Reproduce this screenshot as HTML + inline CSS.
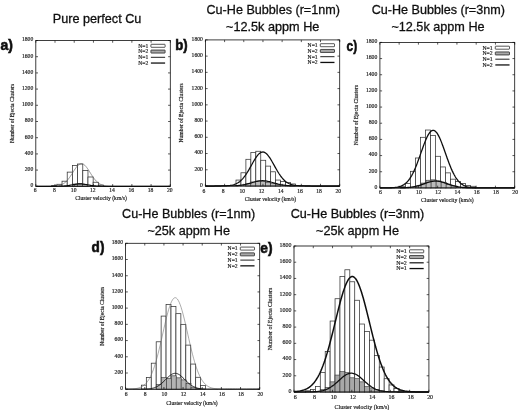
<!DOCTYPE html>
<html><head><meta charset="utf-8"><title>Figure</title>
<style>
html,body{margin:0;padding:0;background:#fff;}
body{width:520px;height:410px;overflow:hidden;}
svg{display:block;}
svg text{font-family:"Liberation Serif",serif;fill:#222;stroke:#222;stroke-width:0.18px;}
svg text.t{font-family:"Liberation Sans",sans-serif;fill:#111;stroke:#111;stroke-width:0.3px;}
svg text.p{font-family:"Liberation Sans",sans-serif;font-weight:bold;fill:#111;stroke:#111;stroke-width:0.6px;}
</style></head><body>
<svg width="520" height="410" viewBox="0 0 520 410">
<defs><filter id="bl" x="-2%" y="-2%" width="104%" height="104%"><feGaussianBlur stdDeviation="0.5"/></filter></defs>
<rect width="520" height="410" fill="#fff"/>
<g filter="url(#bl)">
<g>
<rect x="51.65" y="185.49" width="5.19" height="0.81" fill="#fff" stroke="#333" stroke-width="0.75"/>
<rect x="56.84" y="184.28" width="5.19" height="2.02" fill="#fff" stroke="#333" stroke-width="0.75"/>
<rect x="62.03" y="181.20" width="5.19" height="5.10" fill="#fff" stroke="#333" stroke-width="0.75"/>
<rect x="67.22" y="172.12" width="5.19" height="14.18" fill="#fff" stroke="#333" stroke-width="0.75"/>
<rect x="72.40" y="165.40" width="5.19" height="20.90" fill="#fff" stroke="#333" stroke-width="0.75"/>
<rect x="77.59" y="164.03" width="5.19" height="22.28" fill="#fff" stroke="#333" stroke-width="0.75"/>
<rect x="82.78" y="170.59" width="5.19" height="15.71" fill="#fff" stroke="#333" stroke-width="0.75"/>
<rect x="87.97" y="176.99" width="5.19" height="9.31" fill="#fff" stroke="#333" stroke-width="0.75"/>
<rect x="93.15" y="182.25" width="5.19" height="4.05" fill="#fff" stroke="#333" stroke-width="0.75"/>
<rect x="98.34" y="185.09" width="5.19" height="1.22" fill="#fff" stroke="#333" stroke-width="0.75"/>
<rect x="72.21" y="184.03" width="5.19" height="2.27" fill="#999" stroke="#333" stroke-width="0.6"/>
<rect x="77.40" y="183.71" width="5.19" height="2.59" fill="#999" stroke="#333" stroke-width="0.6"/>
<rect x="82.59" y="184.28" width="5.19" height="2.02" fill="#999" stroke="#333" stroke-width="0.6"/>
<path d="M35.80,186.30 L36.76,186.30 L37.72,186.30 L38.68,186.30 L39.64,186.30 L40.60,186.30 L41.56,186.30 L42.52,186.30 L43.49,186.30 L44.45,186.30 L45.41,186.30 L46.37,186.29 L47.33,186.29 L48.29,186.29 L49.25,186.28 L50.21,186.27 L51.17,186.25 L52.13,186.23 L53.09,186.19 L54.05,186.15 L55.01,186.09 L55.97,186.00 L56.94,185.89 L57.90,185.74 L58.86,185.55 L59.82,185.30 L60.78,184.99 L61.74,184.61 L62.70,184.13 L63.66,183.56 L64.62,182.88 L65.58,182.08 L66.54,181.15 L67.50,180.11 L68.46,178.94 L69.42,177.66 L70.39,176.27 L71.35,174.82 L72.31,173.31 L73.27,171.78 L74.23,170.27 L75.19,168.83 L76.15,167.48 L77.11,166.28 L78.07,165.27 L79.03,164.48 L79.99,163.93 L80.95,163.65 L81.91,163.65 L82.88,163.93 L83.84,164.48 L84.80,165.27 L85.76,166.28 L86.72,167.48 L87.68,168.83 L88.64,170.27 L89.60,171.78 L90.56,173.31 L91.52,174.82 L92.48,176.27 L93.44,177.66 L94.40,178.94 L95.36,180.11 L96.33,181.15 L97.29,182.08 L98.25,182.88 L99.21,183.56 L100.17,184.13 L101.13,184.61 L102.09,184.99 L103.05,185.30 L104.01,185.55 L104.97,185.74 L105.93,185.89 L106.89,186.00 L107.85,186.09 L108.81,186.15 L109.77,186.19 L110.74,186.23 L111.70,186.25 L112.66,186.27 L113.62,186.28 L114.58,186.29 L115.54,186.29 L116.50,186.29 L117.46,186.30 L118.42,186.30 L119.38,186.30 L120.34,186.30 L121.30,186.30 L122.26,186.30 L123.22,186.30 L124.19,186.30 L125.15,186.30 L126.11,186.30 L127.07,186.30 L128.03,186.30 L128.99,186.30 L129.95,186.30 L130.91,186.30 L131.87,186.30 L132.83,186.30 L133.79,186.30 L134.75,186.30 L135.71,186.30 L136.68,186.30 L137.64,186.30 L138.60,186.30 L139.56,186.30 L140.52,186.30 L141.48,186.30 L142.44,186.30 L143.40,186.30 L144.36,186.30 L145.32,186.30 L146.28,186.30 L147.24,186.30 L148.20,186.30 L149.16,186.30 L150.12,186.30 L151.09,186.30 L152.05,186.30 L153.01,186.30 L153.97,186.30 L154.93,186.30 L155.89,186.30 L156.85,186.30 L157.81,186.30 L158.77,186.30 L159.73,186.30 L160.69,186.30 L161.65,186.30 L162.61,186.30 L163.58,186.30 L164.54,186.30 L165.50,186.30 L166.46,186.30 L167.42,186.30 L168.38,186.30 L169.34,186.30 L170.30,186.30" fill="none" stroke="#555" stroke-width="0.6"/>
<path d="M35.80,186.30 L36.76,186.30 L37.72,186.30 L38.68,186.30 L39.64,186.30 L40.60,186.30 L41.56,186.30 L42.52,186.30 L43.49,186.30 L44.45,186.30 L45.41,186.30 L46.37,186.30 L47.33,186.30 L48.29,186.30 L49.25,186.30 L50.21,186.30 L51.17,186.30 L52.13,186.30 L53.09,186.29 L54.05,186.29 L55.01,186.29 L55.97,186.28 L56.94,186.27 L57.90,186.26 L58.86,186.24 L59.82,186.22 L60.78,186.19 L61.74,186.16 L62.70,186.11 L63.66,186.05 L64.62,185.97 L65.58,185.88 L66.54,185.77 L67.50,185.65 L68.46,185.51 L69.42,185.36 L70.39,185.19 L71.35,185.01 L72.31,184.83 L73.27,184.64 L74.23,184.47 L75.19,184.30 L76.15,184.16 L77.11,184.03 L78.07,183.94 L79.03,183.89 L79.99,183.87 L80.95,183.89 L81.91,183.94 L82.88,184.03 L83.84,184.16 L84.80,184.30 L85.76,184.47 L86.72,184.64 L87.68,184.83 L88.64,185.01 L89.60,185.19 L90.56,185.36 L91.52,185.51 L92.48,185.65 L93.44,185.77 L94.40,185.88 L95.36,185.97 L96.33,186.05 L97.29,186.11 L98.25,186.16 L99.21,186.19 L100.17,186.22 L101.13,186.24 L102.09,186.26 L103.05,186.27 L104.01,186.28 L104.97,186.29 L105.93,186.29 L106.89,186.29 L107.85,186.30 L108.81,186.30 L109.77,186.30 L110.74,186.30 L111.70,186.30 L112.66,186.30 L113.62,186.30 L114.58,186.30 L115.54,186.30 L116.50,186.30 L117.46,186.30 L118.42,186.30 L119.38,186.30 L120.34,186.30 L121.30,186.30 L122.26,186.30 L123.22,186.30 L124.19,186.30 L125.15,186.30 L126.11,186.30 L127.07,186.30 L128.03,186.30 L128.99,186.30 L129.95,186.30 L130.91,186.30 L131.87,186.30 L132.83,186.30 L133.79,186.30 L134.75,186.30 L135.71,186.30 L136.68,186.30 L137.64,186.30 L138.60,186.30 L139.56,186.30 L140.52,186.30 L141.48,186.30 L142.44,186.30 L143.40,186.30 L144.36,186.30 L145.32,186.30 L146.28,186.30 L147.24,186.30 L148.20,186.30 L149.16,186.30 L150.12,186.30 L151.09,186.30 L152.05,186.30 L153.01,186.30 L153.97,186.30 L154.93,186.30 L155.89,186.30 L156.85,186.30 L157.81,186.30 L158.77,186.30 L159.73,186.30 L160.69,186.30 L161.65,186.30 L162.61,186.30 L163.58,186.30 L164.54,186.30 L165.50,186.30 L166.46,186.30 L167.42,186.30 L168.38,186.30 L169.34,186.30 L170.30,186.30" fill="none" stroke="#111" stroke-width="1.2"/>
<rect x="35.8" y="40.5" width="134.5" height="145.8" fill="none" stroke="#111" stroke-width="0.8"/>
<path d="M35.80,186.3v-2.2M35.80,40.5v2.2" stroke="#111" stroke-width="0.7"/>
<text x="35.20" y="192.40" font-size="5.60" text-anchor="middle">6</text>
<path d="M55.01,186.3v-2.2M55.01,40.5v2.2" stroke="#111" stroke-width="0.7"/>
<text x="54.41" y="192.40" font-size="5.60" text-anchor="middle">8</text>
<path d="M74.23,186.3v-2.2M74.23,40.5v2.2" stroke="#111" stroke-width="0.7"/>
<text x="73.63" y="192.40" font-size="5.60" text-anchor="middle">10</text>
<path d="M93.44,186.3v-2.2M93.44,40.5v2.2" stroke="#111" stroke-width="0.7"/>
<text x="92.84" y="192.40" font-size="5.60" text-anchor="middle">12</text>
<path d="M112.66,186.3v-2.2M112.66,40.5v2.2" stroke="#111" stroke-width="0.7"/>
<text x="112.06" y="192.40" font-size="5.60" text-anchor="middle">14</text>
<path d="M131.87,186.3v-2.2M131.87,40.5v2.2" stroke="#111" stroke-width="0.7"/>
<text x="131.27" y="192.40" font-size="5.60" text-anchor="middle">16</text>
<path d="M151.09,186.3v-2.2M151.09,40.5v2.2" stroke="#111" stroke-width="0.7"/>
<text x="150.49" y="192.40" font-size="5.60" text-anchor="middle">18</text>
<path d="M170.30,186.3v-2.2M170.30,40.5v2.2" stroke="#111" stroke-width="0.7"/>
<text x="169.70" y="192.40" font-size="5.60" text-anchor="middle">20</text>
<path d="M35.8,186.30h2.2M170.3,186.30h-2.2" stroke="#111" stroke-width="0.7"/>
<text x="33.20" y="187.20" font-size="5.60" text-anchor="end">0</text>
<path d="M35.8,170.10h2.2M170.3,170.10h-2.2" stroke="#111" stroke-width="0.7"/>
<text x="33.20" y="171.00" font-size="5.60" text-anchor="end">200</text>
<path d="M35.8,153.90h2.2M170.3,153.90h-2.2" stroke="#111" stroke-width="0.7"/>
<text x="33.20" y="154.80" font-size="5.60" text-anchor="end">400</text>
<path d="M35.8,137.70h2.2M170.3,137.70h-2.2" stroke="#111" stroke-width="0.7"/>
<text x="33.20" y="138.60" font-size="5.60" text-anchor="end">600</text>
<path d="M35.8,121.50h2.2M170.3,121.50h-2.2" stroke="#111" stroke-width="0.7"/>
<text x="33.20" y="122.40" font-size="5.60" text-anchor="end">800</text>
<path d="M35.8,105.30h2.2M170.3,105.30h-2.2" stroke="#111" stroke-width="0.7"/>
<text x="33.20" y="106.20" font-size="5.60" text-anchor="end">1000</text>
<path d="M35.8,89.10h2.2M170.3,89.10h-2.2" stroke="#111" stroke-width="0.7"/>
<text x="33.20" y="90.00" font-size="5.60" text-anchor="end">1200</text>
<path d="M35.8,72.90h2.2M170.3,72.90h-2.2" stroke="#111" stroke-width="0.7"/>
<text x="33.20" y="73.80" font-size="5.60" text-anchor="end">1400</text>
<path d="M35.8,56.70h2.2M170.3,56.70h-2.2" stroke="#111" stroke-width="0.7"/>
<text x="33.20" y="57.60" font-size="5.60" text-anchor="end">1600</text>
<path d="M35.8,40.50h2.2M170.3,40.50h-2.2" stroke="#111" stroke-width="0.7"/>
<text x="33.20" y="41.40" font-size="5.60" text-anchor="end">1800</text>
<text x="101.05" y="199.80" font-size="5.60" text-anchor="middle">Cluster velocity (km/s)</text>
<text transform="translate(13.70,113.40) rotate(-90)" font-size="5.55" text-anchor="middle">Number of Ejecta Clusters</text>
<text x="148.20" y="47.60" font-size="5.60" text-anchor="end">N=1</text>
<rect x="150.90" y="44.30" width="14.2" height="3" rx="0.45" fill="#fff" stroke="#111" stroke-width="0.7"/>
<text x="148.20" y="53.35" font-size="5.60" text-anchor="end">N=2</text>
<rect x="150.90" y="50.05" width="14.2" height="3" rx="0.45" fill="#aaa" stroke="#111" stroke-width="0.7"/>
<text x="148.20" y="59.10" font-size="5.60" text-anchor="end">N=1</text>
<path d="M150.90,57.30h14.2" stroke="#222" stroke-width="1.0"/>
<text x="148.20" y="64.85" font-size="5.60" text-anchor="end">N=2</text>
<path d="M150.90,63.05h14.2" stroke="#111" stroke-width="1.3"/>
</g>
<g>
<rect x="236.00" y="180.07" width="4.95" height="5.93" fill="#fff" stroke="#333" stroke-width="0.75"/>
<rect x="240.95" y="172.77" width="4.95" height="13.23" fill="#fff" stroke="#333" stroke-width="0.75"/>
<rect x="245.90" y="159.30" width="4.95" height="26.70" fill="#fff" stroke="#333" stroke-width="0.75"/>
<rect x="250.85" y="152.56" width="4.95" height="33.44" fill="#fff" stroke="#333" stroke-width="0.75"/>
<rect x="255.80" y="151.26" width="4.95" height="34.74" fill="#fff" stroke="#333" stroke-width="0.75"/>
<rect x="260.75" y="160.27" width="4.95" height="25.73" fill="#fff" stroke="#333" stroke-width="0.75"/>
<rect x="265.70" y="166.11" width="4.95" height="19.89" fill="#fff" stroke="#333" stroke-width="0.75"/>
<rect x="270.65" y="171.80" width="4.95" height="14.20" fill="#fff" stroke="#333" stroke-width="0.75"/>
<rect x="275.60" y="180.07" width="4.95" height="5.93" fill="#fff" stroke="#333" stroke-width="0.75"/>
<rect x="280.55" y="181.54" width="4.95" height="4.46" fill="#fff" stroke="#333" stroke-width="0.75"/>
<rect x="285.50" y="182.51" width="4.95" height="3.49" fill="#fff" stroke="#333" stroke-width="0.75"/>
<rect x="290.45" y="183.97" width="4.95" height="2.03" fill="#fff" stroke="#333" stroke-width="0.75"/>
<rect x="245.88" y="183.56" width="4.95" height="2.44" fill="#bbb" stroke="#333" stroke-width="0.6"/>
<rect x="250.83" y="181.94" width="4.95" height="4.06" fill="#bbb" stroke="#333" stroke-width="0.6"/>
<rect x="255.78" y="180.97" width="4.95" height="5.03" fill="#bbb" stroke="#333" stroke-width="0.6"/>
<rect x="260.73" y="181.13" width="4.95" height="4.87" fill="#bbb" stroke="#333" stroke-width="0.6"/>
<rect x="265.68" y="182.35" width="4.95" height="3.65" fill="#bbb" stroke="#333" stroke-width="0.6"/>
<rect x="270.63" y="183.56" width="4.95" height="2.44" fill="#bbb" stroke="#333" stroke-width="0.6"/>
<rect x="275.58" y="184.78" width="4.95" height="1.22" fill="#bbb" stroke="#333" stroke-width="0.6"/>
<path d="M205.40,186.00 L206.36,186.00 L207.32,186.00 L208.28,186.00 L209.24,186.00 L210.20,186.00 L211.16,186.00 L212.12,186.00 L213.07,186.00 L214.03,186.00 L214.99,185.99 L215.95,185.99 L216.91,185.99 L217.87,185.99 L218.83,185.98 L219.79,185.97 L220.75,185.96 L221.71,185.95 L222.67,185.93 L223.63,185.90 L224.59,185.87 L225.54,185.83 L226.50,185.78 L227.46,185.71 L228.42,185.63 L229.38,185.53 L230.34,185.40 L231.30,185.24 L232.26,185.04 L233.22,184.81 L234.18,184.52 L235.14,184.18 L236.10,183.78 L237.06,183.31 L238.02,182.76 L238.97,182.12 L239.93,181.40 L240.89,180.57 L241.85,179.65 L242.81,178.62 L243.77,177.48 L244.73,176.24 L245.69,174.89 L246.65,173.45 L247.61,171.91 L248.57,170.31 L249.53,168.64 L250.49,166.93 L251.45,165.20 L252.41,163.47 L253.36,161.77 L254.32,160.13 L255.28,158.57 L256.24,157.11 L257.20,155.80 L258.16,154.65 L259.12,153.68 L260.08,152.92 L261.04,152.38 L262.00,152.07 L262.96,152.00 L263.92,152.16 L264.88,152.57 L265.84,153.20 L266.79,154.04 L267.75,155.09 L268.71,156.31 L269.67,157.68 L270.63,159.18 L271.59,160.78 L272.55,162.45 L273.51,164.16 L274.47,165.89 L275.43,167.62 L276.39,169.31 L277.35,170.96 L278.31,172.54 L279.26,174.03 L280.22,175.44 L281.18,176.75 L282.14,177.95 L283.10,179.04 L284.06,180.03 L285.02,180.92 L285.98,181.70 L286.94,182.39 L287.90,182.99 L288.86,183.50 L289.82,183.95 L290.78,184.32 L291.74,184.64 L292.69,184.91 L293.65,185.13 L294.61,185.31 L295.57,185.45 L296.53,185.57 L297.49,185.67 L298.45,185.74 L299.41,185.80 L300.37,185.85 L301.33,185.89 L302.29,185.92 L303.25,185.94 L304.21,185.95 L305.17,185.97 L306.12,185.97 L307.08,185.98 L308.04,185.99 L309.00,185.99 L309.96,185.99 L310.92,186.00 L311.88,186.00 L312.84,186.00 L313.80,186.00 L314.76,186.00 L315.72,186.00 L316.68,186.00 L317.64,186.00 L318.60,186.00 L319.55,186.00 L320.51,186.00 L321.47,186.00 L322.43,186.00 L323.39,186.00 L324.35,186.00 L325.31,186.00 L326.27,186.00 L327.23,186.00 L328.19,186.00 L329.15,186.00 L330.11,186.00 L331.07,186.00 L332.03,186.00 L332.99,186.00 L333.94,186.00 L334.90,186.00 L335.86,186.00 L336.82,186.00 L337.78,186.00 L338.74,186.00 L339.70,186.00" fill="none" stroke="#111" stroke-width="1.25"/>
<path d="M205.40,186.00 L206.36,186.00 L207.32,186.00 L208.28,186.00 L209.24,186.00 L210.20,186.00 L211.16,186.00 L212.12,186.00 L213.07,186.00 L214.03,186.00 L214.99,186.00 L215.95,186.00 L216.91,186.00 L217.87,186.00 L218.83,186.00 L219.79,186.00 L220.75,186.00 L221.71,185.99 L222.67,185.99 L223.63,185.99 L224.59,185.99 L225.54,185.98 L226.50,185.97 L227.46,185.97 L228.42,185.96 L229.38,185.94 L230.34,185.92 L231.30,185.90 L232.26,185.88 L233.22,185.84 L234.18,185.80 L235.14,185.76 L236.10,185.70 L237.06,185.63 L238.02,185.55 L238.97,185.45 L239.93,185.35 L240.89,185.22 L241.85,185.08 L242.81,184.92 L243.77,184.75 L244.73,184.55 L245.69,184.34 L246.65,184.12 L247.61,183.87 L248.57,183.62 L249.53,183.35 L250.49,183.08 L251.45,182.80 L252.41,182.52 L253.36,182.25 L254.32,181.99 L255.28,181.73 L256.24,181.50 L257.20,181.29 L258.16,181.11 L259.12,180.96 L260.08,180.85 L261.04,180.77 L262.00,180.73 L262.96,180.73 L263.92,180.77 L264.88,180.85 L265.84,180.96 L266.79,181.11 L267.75,181.29 L268.71,181.50 L269.67,181.73 L270.63,181.99 L271.59,182.25 L272.55,182.52 L273.51,182.80 L274.47,183.08 L275.43,183.35 L276.39,183.62 L277.35,183.87 L278.31,184.12 L279.26,184.34 L280.22,184.55 L281.18,184.75 L282.14,184.92 L283.10,185.08 L284.06,185.22 L285.02,185.35 L285.98,185.45 L286.94,185.55 L287.90,185.63 L288.86,185.70 L289.82,185.76 L290.78,185.80 L291.74,185.84 L292.69,185.88 L293.65,185.90 L294.61,185.92 L295.57,185.94 L296.53,185.96 L297.49,185.97 L298.45,185.97 L299.41,185.98 L300.37,185.99 L301.33,185.99 L302.29,185.99 L303.25,185.99 L304.21,186.00 L305.17,186.00 L306.12,186.00 L307.08,186.00 L308.04,186.00 L309.00,186.00 L309.96,186.00 L310.92,186.00 L311.88,186.00 L312.84,186.00 L313.80,186.00 L314.76,186.00 L315.72,186.00 L316.68,186.00 L317.64,186.00 L318.60,186.00 L319.55,186.00 L320.51,186.00 L321.47,186.00 L322.43,186.00 L323.39,186.00 L324.35,186.00 L325.31,186.00 L326.27,186.00 L327.23,186.00 L328.19,186.00 L329.15,186.00 L330.11,186.00 L331.07,186.00 L332.03,186.00 L332.99,186.00 L333.94,186.00 L334.90,186.00 L335.86,186.00 L336.82,186.00 L337.78,186.00 L338.74,186.00 L339.70,186.00" fill="none" stroke="#111" stroke-width="1.25"/>
<rect x="205.4" y="39.9" width="134.29999999999998" height="146.1" fill="none" stroke="#111" stroke-width="0.8"/>
<path d="M205.40,186v-2.2M205.40,39.9v2.2" stroke="#111" stroke-width="0.7"/>
<text x="204.00" y="192.90" font-size="5.60" text-anchor="middle">6</text>
<path d="M224.59,186v-2.2M224.59,39.9v2.2" stroke="#111" stroke-width="0.7"/>
<text x="223.19" y="192.90" font-size="5.60" text-anchor="middle">8</text>
<path d="M243.77,186v-2.2M243.77,39.9v2.2" stroke="#111" stroke-width="0.7"/>
<text x="242.37" y="192.90" font-size="5.60" text-anchor="middle">10</text>
<path d="M262.96,186v-2.2M262.96,39.9v2.2" stroke="#111" stroke-width="0.7"/>
<text x="261.56" y="192.90" font-size="5.60" text-anchor="middle">12</text>
<path d="M282.14,186v-2.2M282.14,39.9v2.2" stroke="#111" stroke-width="0.7"/>
<text x="280.74" y="192.90" font-size="5.60" text-anchor="middle">14</text>
<path d="M301.33,186v-2.2M301.33,39.9v2.2" stroke="#111" stroke-width="0.7"/>
<text x="299.93" y="192.90" font-size="5.60" text-anchor="middle">16</text>
<path d="M320.51,186v-2.2M320.51,39.9v2.2" stroke="#111" stroke-width="0.7"/>
<text x="319.11" y="192.90" font-size="5.60" text-anchor="middle">18</text>
<path d="M339.70,186v-2.2M339.70,39.9v2.2" stroke="#111" stroke-width="0.7"/>
<text x="338.30" y="192.90" font-size="5.60" text-anchor="middle">20</text>
<path d="M205.4,186.00h2.2M339.7,186.00h-2.2" stroke="#111" stroke-width="0.7"/>
<text x="202.80" y="186.90" font-size="5.60" text-anchor="end">0</text>
<path d="M205.4,169.77h2.2M339.7,169.77h-2.2" stroke="#111" stroke-width="0.7"/>
<text x="202.80" y="170.67" font-size="5.60" text-anchor="end">200</text>
<path d="M205.4,153.53h2.2M339.7,153.53h-2.2" stroke="#111" stroke-width="0.7"/>
<text x="202.80" y="154.43" font-size="5.60" text-anchor="end">400</text>
<path d="M205.4,137.30h2.2M339.7,137.30h-2.2" stroke="#111" stroke-width="0.7"/>
<text x="202.80" y="138.20" font-size="5.60" text-anchor="end">600</text>
<path d="M205.4,121.07h2.2M339.7,121.07h-2.2" stroke="#111" stroke-width="0.7"/>
<text x="202.80" y="121.97" font-size="5.60" text-anchor="end">800</text>
<path d="M205.4,104.83h2.2M339.7,104.83h-2.2" stroke="#111" stroke-width="0.7"/>
<text x="202.80" y="105.73" font-size="5.60" text-anchor="end">1000</text>
<path d="M205.4,88.60h2.2M339.7,88.60h-2.2" stroke="#111" stroke-width="0.7"/>
<text x="202.80" y="89.50" font-size="5.60" text-anchor="end">1200</text>
<path d="M205.4,72.37h2.2M339.7,72.37h-2.2" stroke="#111" stroke-width="0.7"/>
<text x="202.80" y="73.27" font-size="5.60" text-anchor="end">1400</text>
<path d="M205.4,56.13h2.2M339.7,56.13h-2.2" stroke="#111" stroke-width="0.7"/>
<text x="202.80" y="57.03" font-size="5.60" text-anchor="end">1600</text>
<path d="M205.4,39.90h2.2M339.7,39.90h-2.2" stroke="#111" stroke-width="0.7"/>
<text x="202.80" y="40.80" font-size="5.60" text-anchor="end">1800</text>
<text x="270.45" y="201.20" font-size="5.60" text-anchor="middle">Cluster velocity (km/s)</text>
<text transform="translate(183.30,112.95) rotate(-90)" font-size="5.55" text-anchor="middle">Number of Ejecta Clusters</text>
<text x="317.60" y="47.00" font-size="5.60" text-anchor="end">N=1</text>
<rect x="320.30" y="43.70" width="14.2" height="3" rx="0.45" fill="#fff" stroke="#111" stroke-width="0.7"/>
<text x="317.60" y="52.75" font-size="5.60" text-anchor="end">N=2</text>
<rect x="320.30" y="49.45" width="14.2" height="3" rx="0.45" fill="#aaa" stroke="#111" stroke-width="0.7"/>
<text x="317.60" y="58.50" font-size="5.60" text-anchor="end">N=1</text>
<path d="M320.30,56.70h14.2" stroke="#222" stroke-width="1.0"/>
<text x="317.60" y="64.25" font-size="5.60" text-anchor="end">N=2</text>
<path d="M320.30,62.45h14.2" stroke="#111" stroke-width="1.3"/>
</g>
<g>
<rect x="400.41" y="186.28" width="5.01" height="1.62" fill="#fff" stroke="#333" stroke-width="0.75"/>
<rect x="405.42" y="183.53" width="5.01" height="4.36" fill="#fff" stroke="#333" stroke-width="0.75"/>
<rect x="410.42" y="171.33" width="5.01" height="16.57" fill="#fff" stroke="#333" stroke-width="0.75"/>
<rect x="415.43" y="157.99" width="5.01" height="29.91" fill="#fff" stroke="#333" stroke-width="0.75"/>
<rect x="420.44" y="137.30" width="5.01" height="50.60" fill="#fff" stroke="#333" stroke-width="0.75"/>
<rect x="425.44" y="130.02" width="5.01" height="57.88" fill="#fff" stroke="#333" stroke-width="0.75"/>
<rect x="430.45" y="135.60" width="5.01" height="52.30" fill="#fff" stroke="#333" stroke-width="0.75"/>
<rect x="435.46" y="156.29" width="5.01" height="31.61" fill="#fff" stroke="#333" stroke-width="0.75"/>
<rect x="440.46" y="166.96" width="5.01" height="20.94" fill="#fff" stroke="#333" stroke-width="0.75"/>
<rect x="445.47" y="172.87" width="5.01" height="15.03" fill="#fff" stroke="#333" stroke-width="0.75"/>
<rect x="450.48" y="179.17" width="5.01" height="8.73" fill="#fff" stroke="#333" stroke-width="0.75"/>
<rect x="455.48" y="181.59" width="5.01" height="6.30" fill="#fff" stroke="#333" stroke-width="0.75"/>
<rect x="460.49" y="183.53" width="5.01" height="4.36" fill="#fff" stroke="#333" stroke-width="0.75"/>
<rect x="465.50" y="185.47" width="5.01" height="2.42" fill="#fff" stroke="#333" stroke-width="0.75"/>
<rect x="470.50" y="186.28" width="5.01" height="1.62" fill="#fff" stroke="#333" stroke-width="0.75"/>
<rect x="416.10" y="185.88" width="5.01" height="2.02" fill="#bbb" stroke="#333" stroke-width="0.6"/>
<rect x="421.11" y="183.05" width="5.01" height="4.85" fill="#bbb" stroke="#333" stroke-width="0.6"/>
<rect x="426.12" y="180.22" width="5.01" height="7.68" fill="#bbb" stroke="#333" stroke-width="0.6"/>
<rect x="431.12" y="179.82" width="5.01" height="8.08" fill="#bbb" stroke="#333" stroke-width="0.6"/>
<rect x="436.13" y="181.03" width="5.01" height="6.87" fill="#bbb" stroke="#333" stroke-width="0.6"/>
<rect x="441.14" y="182.24" width="5.01" height="5.66" fill="#bbb" stroke="#333" stroke-width="0.6"/>
<rect x="446.14" y="184.26" width="5.01" height="3.64" fill="#bbb" stroke="#333" stroke-width="0.6"/>
<rect x="451.15" y="185.88" width="5.01" height="2.02" fill="#bbb" stroke="#333" stroke-width="0.6"/>
<path d="M379.90,187.90 L380.86,187.89 L381.83,187.89 L382.79,187.89 L383.75,187.88 L384.71,187.88 L385.68,187.87 L386.64,187.86 L387.60,187.84 L388.57,187.83 L389.53,187.80 L390.49,187.77 L391.45,187.73 L392.42,187.68 L393.38,187.61 L394.34,187.53 L395.31,187.42 L396.27,187.29 L397.23,187.13 L398.19,186.93 L399.16,186.69 L400.12,186.40 L401.08,186.05 L402.05,185.63 L403.01,185.14 L403.97,184.56 L404.93,183.88 L405.90,183.09 L406.86,182.19 L407.82,181.16 L408.79,179.99 L409.75,178.67 L410.71,177.21 L411.67,175.58 L412.64,173.80 L413.60,171.86 L414.56,169.76 L415.53,167.52 L416.49,165.14 L417.45,162.64 L418.41,160.04 L419.38,157.37 L420.34,154.64 L421.30,151.89 L422.27,149.16 L423.23,146.48 L424.19,143.88 L425.15,141.41 L426.12,139.11 L427.08,137.01 L428.04,135.15 L429.01,133.55 L429.97,132.26 L430.93,131.28 L431.89,130.65 L432.86,130.36 L433.82,130.43 L434.78,130.86 L435.75,131.63 L436.71,132.74 L437.67,134.16 L438.63,135.86 L439.60,137.82 L440.56,140.01 L441.52,142.38 L442.49,144.91 L443.45,147.54 L444.41,150.25 L445.37,152.99 L446.34,155.74 L447.30,158.45 L448.26,161.09 L449.23,163.66 L450.19,166.11 L451.15,168.43 L452.11,170.62 L453.08,172.65 L454.04,174.53 L455.00,176.25 L455.97,177.81 L456.93,179.22 L457.89,180.47 L458.85,181.59 L459.82,182.57 L460.78,183.42 L461.74,184.16 L462.71,184.80 L463.67,185.35 L464.63,185.81 L465.59,186.20 L466.56,186.52 L467.52,186.79 L468.48,187.02 L469.45,187.20 L470.41,187.35 L471.37,187.47 L472.33,187.56 L473.30,187.64 L474.26,187.70 L475.22,187.75 L476.19,187.78 L477.15,187.81 L478.11,187.83 L479.07,187.85 L480.04,187.86 L481.00,187.87 L481.96,187.88 L482.93,187.89 L483.89,187.89 L484.85,187.89 L485.81,187.89 L486.78,187.90 L487.74,187.90 L488.70,187.90 L489.67,187.90 L490.63,187.90 L491.59,187.90 L492.55,187.90 L493.52,187.90 L494.48,187.90 L495.44,187.90 L496.41,187.90 L497.37,187.90 L498.33,187.90 L499.29,187.90 L500.26,187.90 L501.22,187.90 L502.18,187.90 L503.15,187.90 L504.11,187.90 L505.07,187.90 L506.03,187.90 L507.00,187.90 L507.96,187.90 L508.92,187.90 L509.89,187.90 L510.85,187.90 L511.81,187.90 L512.77,187.90 L513.74,187.90 L514.70,187.90" fill="none" stroke="#111" stroke-width="1.3"/>
<path d="M379.90,187.90 L380.86,187.90 L381.83,187.90 L382.79,187.90 L383.75,187.90 L384.71,187.90 L385.68,187.90 L386.64,187.90 L387.60,187.90 L388.57,187.90 L389.53,187.90 L390.49,187.90 L391.45,187.90 L392.42,187.89 L393.38,187.89 L394.34,187.89 L395.31,187.88 L396.27,187.88 L397.23,187.87 L398.19,187.87 L399.16,187.85 L400.12,187.84 L401.08,187.82 L402.05,187.80 L403.01,187.78 L403.97,187.74 L404.93,187.70 L405.90,187.66 L406.86,187.60 L407.82,187.53 L408.79,187.45 L409.75,187.35 L410.71,187.24 L411.67,187.12 L412.64,186.97 L413.60,186.81 L414.56,186.62 L415.53,186.41 L416.49,186.19 L417.45,185.94 L418.41,185.67 L419.38,185.38 L420.34,185.08 L421.30,184.75 L422.27,184.42 L423.23,184.08 L424.19,183.73 L425.15,183.39 L426.12,183.04 L427.08,182.71 L428.04,182.40 L429.01,182.10 L429.97,181.84 L430.93,181.60 L431.89,181.40 L432.86,181.24 L433.82,181.12 L434.78,181.05 L435.75,181.03 L436.71,181.05 L437.67,181.12 L438.63,181.24 L439.60,181.40 L440.56,181.60 L441.52,181.84 L442.49,182.10 L443.45,182.40 L444.41,182.71 L445.37,183.04 L446.34,183.39 L447.30,183.73 L448.26,184.08 L449.23,184.42 L450.19,184.75 L451.15,185.08 L452.11,185.38 L453.08,185.67 L454.04,185.94 L455.00,186.19 L455.97,186.41 L456.93,186.62 L457.89,186.81 L458.85,186.97 L459.82,187.12 L460.78,187.24 L461.74,187.35 L462.71,187.45 L463.67,187.53 L464.63,187.60 L465.59,187.66 L466.56,187.70 L467.52,187.74 L468.48,187.78 L469.45,187.80 L470.41,187.82 L471.37,187.84 L472.33,187.85 L473.30,187.87 L474.26,187.87 L475.22,187.88 L476.19,187.88 L477.15,187.89 L478.11,187.89 L479.07,187.89 L480.04,187.90 L481.00,187.90 L481.96,187.90 L482.93,187.90 L483.89,187.90 L484.85,187.90 L485.81,187.90 L486.78,187.90 L487.74,187.90 L488.70,187.90 L489.67,187.90 L490.63,187.90 L491.59,187.90 L492.55,187.90 L493.52,187.90 L494.48,187.90 L495.44,187.90 L496.41,187.90 L497.37,187.90 L498.33,187.90 L499.29,187.90 L500.26,187.90 L501.22,187.90 L502.18,187.90 L503.15,187.90 L504.11,187.90 L505.07,187.90 L506.03,187.90 L507.00,187.90 L507.96,187.90 L508.92,187.90 L509.89,187.90 L510.85,187.90 L511.81,187.90 L512.77,187.90 L513.74,187.90 L514.70,187.90" fill="none" stroke="#111" stroke-width="1.4"/>
<rect x="379.9" y="42.4" width="134.80000000000007" height="145.5" fill="none" stroke="#111" stroke-width="0.8"/>
<path d="M379.90,187.9v-2.2M379.90,42.4v2.2" stroke="#111" stroke-width="0.7"/>
<text x="380.40" y="194.00" font-size="5.71" text-anchor="middle">6</text>
<path d="M399.16,187.9v-2.2M399.16,42.4v2.2" stroke="#111" stroke-width="0.7"/>
<text x="399.66" y="194.00" font-size="5.71" text-anchor="middle">8</text>
<path d="M418.41,187.9v-2.2M418.41,42.4v2.2" stroke="#111" stroke-width="0.7"/>
<text x="418.91" y="194.00" font-size="5.71" text-anchor="middle">10</text>
<path d="M437.67,187.9v-2.2M437.67,42.4v2.2" stroke="#111" stroke-width="0.7"/>
<text x="438.17" y="194.00" font-size="5.71" text-anchor="middle">12</text>
<path d="M456.93,187.9v-2.2M456.93,42.4v2.2" stroke="#111" stroke-width="0.7"/>
<text x="457.43" y="194.00" font-size="5.71" text-anchor="middle">14</text>
<path d="M476.19,187.9v-2.2M476.19,42.4v2.2" stroke="#111" stroke-width="0.7"/>
<text x="476.69" y="194.00" font-size="5.71" text-anchor="middle">16</text>
<path d="M495.44,187.9v-2.2M495.44,42.4v2.2" stroke="#111" stroke-width="0.7"/>
<text x="495.94" y="194.00" font-size="5.71" text-anchor="middle">18</text>
<path d="M514.70,187.9v-2.2M514.70,42.4v2.2" stroke="#111" stroke-width="0.7"/>
<text x="515.20" y="194.00" font-size="5.71" text-anchor="middle">20</text>
<path d="M379.9,187.90h2.2M514.7,187.90h-2.2" stroke="#111" stroke-width="0.7"/>
<text x="377.30" y="188.80" font-size="5.71" text-anchor="end">0</text>
<path d="M379.9,171.73h2.2M514.7,171.73h-2.2" stroke="#111" stroke-width="0.7"/>
<text x="377.30" y="172.63" font-size="5.71" text-anchor="end">200</text>
<path d="M379.9,155.57h2.2M514.7,155.57h-2.2" stroke="#111" stroke-width="0.7"/>
<text x="377.30" y="156.47" font-size="5.71" text-anchor="end">400</text>
<path d="M379.9,139.40h2.2M514.7,139.40h-2.2" stroke="#111" stroke-width="0.7"/>
<text x="377.30" y="140.30" font-size="5.71" text-anchor="end">600</text>
<path d="M379.9,123.23h2.2M514.7,123.23h-2.2" stroke="#111" stroke-width="0.7"/>
<text x="377.30" y="124.13" font-size="5.71" text-anchor="end">800</text>
<path d="M379.9,107.07h2.2M514.7,107.07h-2.2" stroke="#111" stroke-width="0.7"/>
<text x="377.30" y="107.97" font-size="5.71" text-anchor="end">1000</text>
<path d="M379.9,90.90h2.2M514.7,90.90h-2.2" stroke="#111" stroke-width="0.7"/>
<text x="377.30" y="91.80" font-size="5.71" text-anchor="end">1200</text>
<path d="M379.9,74.73h2.2M514.7,74.73h-2.2" stroke="#111" stroke-width="0.7"/>
<text x="377.30" y="75.63" font-size="5.71" text-anchor="end">1400</text>
<path d="M379.9,58.57h2.2M514.7,58.57h-2.2" stroke="#111" stroke-width="0.7"/>
<text x="377.30" y="59.47" font-size="5.71" text-anchor="end">1600</text>
<path d="M379.9,42.40h2.2M514.7,42.40h-2.2" stroke="#111" stroke-width="0.7"/>
<text x="377.30" y="43.30" font-size="5.71" text-anchor="end">1800</text>
<text x="447.30" y="202.30" font-size="5.71" text-anchor="middle">Cluster velocity (km/s)</text>
<text transform="translate(357.80,115.15) rotate(-90)" font-size="5.66" text-anchor="middle">Number of Ejecta Clusters</text>
<text x="492.60" y="49.50" font-size="5.71" text-anchor="end">N=1</text>
<rect x="495.30" y="46.20" width="14.2" height="3" rx="0.45" fill="#fff" stroke="#111" stroke-width="0.7"/>
<text x="492.60" y="55.25" font-size="5.71" text-anchor="end">N=2</text>
<rect x="495.30" y="51.95" width="14.2" height="3" rx="0.45" fill="#aaa" stroke="#111" stroke-width="0.7"/>
<text x="492.60" y="61.00" font-size="5.71" text-anchor="end">N=1</text>
<path d="M495.30,59.20h14.2" stroke="#222" stroke-width="1.0"/>
<text x="492.60" y="66.75" font-size="5.71" text-anchor="end">N=2</text>
<path d="M495.30,64.95h14.2" stroke="#111" stroke-width="1.3"/>
</g>
<g>
<rect x="141.40" y="385.15" width="4.93" height="4.05" fill="#fff" stroke="#333" stroke-width="0.75"/>
<rect x="146.34" y="377.61" width="4.93" height="11.59" fill="#fff" stroke="#333" stroke-width="0.75"/>
<rect x="151.27" y="363.18" width="4.93" height="26.02" fill="#fff" stroke="#333" stroke-width="0.75"/>
<rect x="156.20" y="341.78" width="4.93" height="47.42" fill="#fff" stroke="#333" stroke-width="0.75"/>
<rect x="161.14" y="316.09" width="4.93" height="73.11" fill="#fff" stroke="#333" stroke-width="0.75"/>
<rect x="166.07" y="304.42" width="4.93" height="84.78" fill="#fff" stroke="#333" stroke-width="0.75"/>
<rect x="171.00" y="306.60" width="4.93" height="82.60" fill="#fff" stroke="#333" stroke-width="0.75"/>
<rect x="175.94" y="313.66" width="4.93" height="75.54" fill="#fff" stroke="#333" stroke-width="0.75"/>
<rect x="180.87" y="324.36" width="4.93" height="64.84" fill="#fff" stroke="#333" stroke-width="0.75"/>
<rect x="185.80" y="345.11" width="4.93" height="44.09" fill="#fff" stroke="#333" stroke-width="0.75"/>
<rect x="190.73" y="364.07" width="4.93" height="25.13" fill="#fff" stroke="#333" stroke-width="0.75"/>
<rect x="195.67" y="377.28" width="4.93" height="11.92" fill="#fff" stroke="#333" stroke-width="0.75"/>
<rect x="200.60" y="385.55" width="4.93" height="3.65" fill="#fff" stroke="#333" stroke-width="0.75"/>
<rect x="156.49" y="384.50" width="4.93" height="4.70" fill="#b4b4b4" stroke="#333" stroke-width="0.6"/>
<rect x="161.42" y="377.61" width="4.93" height="11.59" fill="#b4b4b4" stroke="#333" stroke-width="0.6"/>
<rect x="166.36" y="378.26" width="4.93" height="10.94" fill="#b4b4b4" stroke="#333" stroke-width="0.6"/>
<rect x="171.29" y="375.83" width="4.93" height="13.37" fill="#b4b4b4" stroke="#333" stroke-width="0.6"/>
<rect x="176.22" y="377.85" width="4.93" height="11.35" fill="#b4b4b4" stroke="#333" stroke-width="0.6"/>
<rect x="181.16" y="379.88" width="4.93" height="9.32" fill="#b4b4b4" stroke="#333" stroke-width="0.6"/>
<rect x="186.09" y="383.53" width="4.93" height="5.67" fill="#b4b4b4" stroke="#333" stroke-width="0.6"/>
<rect x="191.02" y="387.17" width="4.93" height="2.03" fill="#b4b4b4" stroke="#333" stroke-width="0.6"/>
<rect x="195.95" y="388.39" width="4.93" height="0.81" fill="#b4b4b4" stroke="#333" stroke-width="0.6"/>
<path d="M125.60,389.17 L126.56,389.16 L127.52,389.14 L128.47,389.12 L129.43,389.09 L130.39,389.06 L131.35,389.02 L132.31,388.96 L133.26,388.89 L134.22,388.79 L135.18,388.68 L136.14,388.54 L137.09,388.36 L138.05,388.14 L139.01,387.86 L139.97,387.53 L140.93,387.14 L141.88,386.66 L142.84,386.08 L143.80,385.41 L144.76,384.61 L145.71,383.67 L146.67,382.59 L147.63,381.33 L148.59,379.90 L149.55,378.27 L150.50,376.43 L151.46,374.37 L152.42,372.07 L153.38,369.54 L154.34,366.77 L155.29,363.76 L156.25,360.51 L157.21,357.04 L158.17,353.36 L159.12,349.50 L160.08,345.48 L161.04,341.33 L162.00,337.11 L162.96,332.84 L163.91,328.59 L164.87,324.40 L165.83,320.32 L166.79,316.43 L167.75,312.76 L168.70,309.39 L169.66,306.36 L170.62,303.72 L171.58,301.52 L172.53,299.79 L173.49,298.56 L174.45,297.86 L175.41,297.70 L176.37,298.08 L177.32,298.99 L178.28,300.42 L179.24,302.34 L180.20,304.72 L181.16,307.53 L182.11,310.70 L183.07,314.20 L184.03,317.96 L184.99,321.93 L185.94,326.06 L186.90,330.28 L187.86,334.55 L188.82,338.80 L189.78,343.00 L190.73,347.10 L191.69,351.06 L192.65,354.85 L193.61,358.45 L194.57,361.84 L195.52,364.99 L196.48,367.91 L197.44,370.58 L198.40,373.02 L199.35,375.22 L200.31,377.19 L201.27,378.95 L202.23,380.50 L203.19,381.86 L204.14,383.04 L205.10,384.06 L206.06,384.94 L207.02,385.69 L207.98,386.33 L208.93,386.86 L209.89,387.30 L210.85,387.67 L211.81,387.98 L212.76,388.23 L213.72,388.43 L214.68,388.60 L215.64,388.73 L216.60,388.83 L217.55,388.92 L218.51,388.98 L219.47,389.03 L220.43,389.07 L221.39,389.11 L222.34,389.13 L223.30,389.15 L224.26,389.16 L225.22,389.17 L226.17,389.18 L227.13,389.18 L228.09,389.19 L229.05,389.19 L230.01,389.19 L230.96,389.20 L231.92,389.20 L232.88,389.20 L233.84,389.20 L234.80,389.20 L235.75,389.20 L236.71,389.20 L237.67,389.20 L238.63,389.20 L239.58,389.20 L240.54,389.20 L241.50,389.20 L242.46,389.20 L243.42,389.20 L244.37,389.20 L245.33,389.20 L246.29,389.20 L247.25,389.20 L248.21,389.20 L249.16,389.20 L250.12,389.20 L251.08,389.20 L252.04,389.20 L253.00,389.20 L253.95,389.20 L254.91,389.20 L255.87,389.20 L256.83,389.20 L257.78,389.20 L258.74,389.20 L259.70,389.20" fill="none" stroke="#666" stroke-width="0.55"/>
<path d="M125.60,389.20 L126.56,389.20 L127.52,389.20 L128.47,389.20 L129.43,389.20 L130.39,389.20 L131.35,389.20 L132.31,389.20 L133.26,389.20 L134.22,389.20 L135.18,389.20 L136.14,389.20 L137.09,389.19 L138.05,389.19 L139.01,389.19 L139.97,389.18 L140.93,389.17 L141.88,389.16 L142.84,389.15 L143.80,389.13 L144.76,389.10 L145.71,389.06 L146.67,389.01 L147.63,388.95 L148.59,388.87 L149.55,388.76 L150.50,388.63 L151.46,388.47 L152.42,388.26 L153.38,388.02 L154.34,387.72 L155.29,387.37 L156.25,386.96 L157.21,386.49 L158.17,385.94 L159.12,385.33 L160.08,384.64 L161.04,383.89 L162.00,383.07 L162.96,382.20 L163.91,381.28 L164.87,380.33 L165.83,379.37 L166.79,378.41 L167.75,377.48 L168.70,376.59 L169.66,375.77 L170.62,375.04 L171.58,374.42 L172.53,373.92 L173.49,373.57 L174.45,373.36 L175.41,373.32 L176.37,373.43 L177.32,373.69 L178.28,374.11 L179.24,374.65 L180.20,375.32 L181.16,376.09 L182.11,376.94 L183.07,377.85 L184.03,378.79 L184.99,379.76 L185.94,380.72 L186.90,381.65 L187.86,382.55 L188.82,383.40 L189.78,384.20 L190.73,384.92 L191.69,385.58 L192.65,386.17 L193.61,386.68 L194.57,387.13 L195.52,387.52 L196.48,387.85 L197.44,388.12 L198.40,388.35 L199.35,388.54 L200.31,388.69 L201.27,388.81 L202.23,388.90 L203.19,388.98 L204.14,389.03 L205.10,389.08 L206.06,389.11 L207.02,389.14 L207.98,389.15 L208.93,389.17 L209.89,389.18 L210.85,389.18 L211.81,389.19 L212.76,389.19 L213.72,389.20 L214.68,389.20 L215.64,389.20 L216.60,389.20 L217.55,389.20 L218.51,389.20 L219.47,389.20 L220.43,389.20 L221.39,389.20 L222.34,389.20 L223.30,389.20 L224.26,389.20 L225.22,389.20 L226.17,389.20 L227.13,389.20 L228.09,389.20 L229.05,389.20 L230.01,389.20 L230.96,389.20 L231.92,389.20 L232.88,389.20 L233.84,389.20 L234.80,389.20 L235.75,389.20 L236.71,389.20 L237.67,389.20 L238.63,389.20 L239.58,389.20 L240.54,389.20 L241.50,389.20 L242.46,389.20 L243.42,389.20 L244.37,389.20 L245.33,389.20 L246.29,389.20 L247.25,389.20 L248.21,389.20 L249.16,389.20 L250.12,389.20 L251.08,389.20 L252.04,389.20 L253.00,389.20 L253.95,389.20 L254.91,389.20 L255.87,389.20 L256.83,389.20 L257.78,389.20 L258.74,389.20 L259.70,389.20" fill="none" stroke="#111" stroke-width="0.9"/>
<rect x="125.6" y="243.3" width="134.1" height="145.89999999999998" fill="none" stroke="#111" stroke-width="0.8"/>
<path d="M125.60,389.2v-2.2M125.60,243.3v2.2" stroke="#111" stroke-width="0.7"/>
<text x="126.10" y="395.60" font-size="5.60" text-anchor="middle">6</text>
<path d="M144.76,389.2v-2.2M144.76,243.3v2.2" stroke="#111" stroke-width="0.7"/>
<text x="145.26" y="395.60" font-size="5.60" text-anchor="middle">8</text>
<path d="M163.91,389.2v-2.2M163.91,243.3v2.2" stroke="#111" stroke-width="0.7"/>
<text x="164.41" y="395.60" font-size="5.60" text-anchor="middle">10</text>
<path d="M183.07,389.2v-2.2M183.07,243.3v2.2" stroke="#111" stroke-width="0.7"/>
<text x="183.57" y="395.60" font-size="5.60" text-anchor="middle">12</text>
<path d="M202.23,389.2v-2.2M202.23,243.3v2.2" stroke="#111" stroke-width="0.7"/>
<text x="202.73" y="395.60" font-size="5.60" text-anchor="middle">14</text>
<path d="M221.39,389.2v-2.2M221.39,243.3v2.2" stroke="#111" stroke-width="0.7"/>
<text x="221.89" y="395.60" font-size="5.60" text-anchor="middle">16</text>
<path d="M240.54,389.2v-2.2M240.54,243.3v2.2" stroke="#111" stroke-width="0.7"/>
<text x="241.04" y="395.60" font-size="5.60" text-anchor="middle">18</text>
<path d="M259.70,389.2v-2.2M259.70,243.3v2.2" stroke="#111" stroke-width="0.7"/>
<text x="260.20" y="395.60" font-size="5.60" text-anchor="middle">20</text>
<path d="M125.6,389.20h2.2M259.7,389.20h-2.2" stroke="#111" stroke-width="0.7"/>
<text x="123.00" y="390.10" font-size="5.60" text-anchor="end">0</text>
<path d="M125.6,372.99h2.2M259.7,372.99h-2.2" stroke="#111" stroke-width="0.7"/>
<text x="123.00" y="373.89" font-size="5.60" text-anchor="end">200</text>
<path d="M125.6,356.78h2.2M259.7,356.78h-2.2" stroke="#111" stroke-width="0.7"/>
<text x="123.00" y="357.68" font-size="5.60" text-anchor="end">400</text>
<path d="M125.6,340.57h2.2M259.7,340.57h-2.2" stroke="#111" stroke-width="0.7"/>
<text x="123.00" y="341.47" font-size="5.60" text-anchor="end">600</text>
<path d="M125.6,324.36h2.2M259.7,324.36h-2.2" stroke="#111" stroke-width="0.7"/>
<text x="123.00" y="325.26" font-size="5.60" text-anchor="end">800</text>
<path d="M125.6,308.14h2.2M259.7,308.14h-2.2" stroke="#111" stroke-width="0.7"/>
<text x="123.00" y="309.04" font-size="5.60" text-anchor="end">1000</text>
<path d="M125.6,291.93h2.2M259.7,291.93h-2.2" stroke="#111" stroke-width="0.7"/>
<text x="123.00" y="292.83" font-size="5.60" text-anchor="end">1200</text>
<path d="M125.6,275.72h2.2M259.7,275.72h-2.2" stroke="#111" stroke-width="0.7"/>
<text x="123.00" y="276.62" font-size="5.60" text-anchor="end">1400</text>
<path d="M125.6,259.51h2.2M259.7,259.51h-2.2" stroke="#111" stroke-width="0.7"/>
<text x="123.00" y="260.41" font-size="5.60" text-anchor="end">1600</text>
<path d="M125.6,243.30h2.2M259.7,243.30h-2.2" stroke="#111" stroke-width="0.7"/>
<text x="123.00" y="244.20" font-size="5.60" text-anchor="end">1800</text>
<text x="191.95" y="404.80" font-size="5.60" text-anchor="middle">Cluster velocity (km/s)</text>
<text transform="translate(103.50,316.25) rotate(-90)" font-size="5.55" text-anchor="middle">Number of Ejecta Clusters</text>
<text x="237.60" y="250.40" font-size="5.60" text-anchor="end">N=1</text>
<rect x="240.30" y="247.10" width="14.2" height="3" rx="0.45" fill="#fff" stroke="#111" stroke-width="0.7"/>
<text x="237.60" y="256.15" font-size="5.60" text-anchor="end">N=2</text>
<rect x="240.30" y="252.85" width="14.2" height="3" rx="0.45" fill="#aaa" stroke="#111" stroke-width="0.7"/>
<text x="237.60" y="261.90" font-size="5.60" text-anchor="end">N=1</text>
<path d="M240.30,260.10h14.2" stroke="#222" stroke-width="1.0"/>
<text x="237.60" y="267.65" font-size="5.60" text-anchor="end">N=2</text>
<path d="M240.30,265.85h14.2" stroke="#111" stroke-width="1.3"/>
</g>
<g>
<rect x="305.56" y="390.78" width="4.91" height="1.22" fill="#fff" stroke="#333" stroke-width="0.75"/>
<rect x="310.48" y="389.57" width="4.91" height="2.43" fill="#fff" stroke="#333" stroke-width="0.75"/>
<rect x="315.39" y="386.48" width="4.91" height="5.52" fill="#fff" stroke="#333" stroke-width="0.75"/>
<rect x="320.31" y="372.53" width="4.91" height="19.47" fill="#fff" stroke="#333" stroke-width="0.75"/>
<rect x="325.22" y="351.61" width="4.91" height="40.39" fill="#fff" stroke="#333" stroke-width="0.75"/>
<rect x="330.13" y="321.03" width="4.91" height="70.97" fill="#fff" stroke="#333" stroke-width="0.75"/>
<rect x="335.05" y="298.72" width="4.91" height="93.28" fill="#fff" stroke="#333" stroke-width="0.75"/>
<rect x="339.96" y="276.58" width="4.91" height="115.42" fill="#fff" stroke="#333" stroke-width="0.75"/>
<rect x="344.88" y="269.77" width="4.91" height="122.23" fill="#fff" stroke="#333" stroke-width="0.75"/>
<rect x="349.79" y="281.77" width="4.91" height="110.23" fill="#fff" stroke="#333" stroke-width="0.75"/>
<rect x="354.70" y="300.26" width="4.91" height="91.74" fill="#fff" stroke="#333" stroke-width="0.75"/>
<rect x="359.62" y="324.03" width="4.91" height="67.97" fill="#fff" stroke="#333" stroke-width="0.75"/>
<rect x="364.53" y="331.41" width="4.91" height="60.59" fill="#fff" stroke="#333" stroke-width="0.75"/>
<rect x="369.45" y="340.17" width="4.91" height="51.83" fill="#fff" stroke="#333" stroke-width="0.75"/>
<rect x="374.36" y="355.58" width="4.91" height="36.42" fill="#fff" stroke="#333" stroke-width="0.75"/>
<rect x="379.28" y="367.02" width="4.91" height="24.98" fill="#fff" stroke="#333" stroke-width="0.75"/>
<rect x="384.19" y="378.70" width="4.91" height="13.30" fill="#fff" stroke="#333" stroke-width="0.75"/>
<rect x="389.10" y="384.94" width="4.91" height="7.06" fill="#fff" stroke="#333" stroke-width="0.75"/>
<rect x="394.02" y="388.59" width="4.91" height="3.41" fill="#fff" stroke="#333" stroke-width="0.75"/>
<rect x="398.93" y="390.46" width="4.91" height="1.54" fill="#fff" stroke="#333" stroke-width="0.75"/>
<rect x="320.31" y="389.57" width="4.91" height="2.43" fill="#a8a8a8" stroke="#333" stroke-width="0.6"/>
<rect x="325.22" y="387.38" width="4.91" height="4.62" fill="#a8a8a8" stroke="#333" stroke-width="0.6"/>
<rect x="330.13" y="381.86" width="4.91" height="10.14" fill="#a8a8a8" stroke="#333" stroke-width="0.6"/>
<rect x="335.05" y="375.05" width="4.91" height="16.95" fill="#a8a8a8" stroke="#333" stroke-width="0.6"/>
<rect x="339.96" y="371.64" width="4.91" height="20.36" fill="#a8a8a8" stroke="#333" stroke-width="0.6"/>
<rect x="344.88" y="372.53" width="4.91" height="19.47" fill="#a8a8a8" stroke="#333" stroke-width="0.6"/>
<rect x="349.79" y="377.81" width="4.91" height="14.19" fill="#a8a8a8" stroke="#333" stroke-width="0.6"/>
<rect x="354.70" y="378.70" width="4.91" height="13.30" fill="#a8a8a8" stroke="#333" stroke-width="0.6"/>
<rect x="359.62" y="381.86" width="4.91" height="10.14" fill="#a8a8a8" stroke="#333" stroke-width="0.6"/>
<rect x="364.53" y="386.48" width="4.91" height="5.52" fill="#a8a8a8" stroke="#333" stroke-width="0.6"/>
<rect x="369.45" y="387.94" width="4.91" height="4.06" fill="#a8a8a8" stroke="#333" stroke-width="0.6"/>
<rect x="374.36" y="389.57" width="4.91" height="2.43" fill="#a8a8a8" stroke="#333" stroke-width="0.6"/>
<rect x="379.28" y="390.78" width="4.91" height="1.22" fill="#a8a8a8" stroke="#333" stroke-width="0.6"/>
<path d="M294.00,391.66 L294.96,391.59 L295.93,391.51 L296.89,391.41 L297.85,391.29 L298.82,391.15 L299.78,390.99 L300.75,390.80 L301.71,390.58 L302.67,390.33 L303.64,390.03 L304.60,389.69 L305.56,389.30 L306.53,388.85 L307.49,388.34 L308.45,387.76 L309.42,387.11 L310.38,386.37 L311.34,385.54 L312.31,384.61 L313.27,383.58 L314.24,382.43 L315.20,381.16 L316.16,379.77 L317.13,378.23 L318.09,376.56 L319.05,374.73 L320.02,372.75 L320.98,370.61 L321.94,368.31 L322.91,365.85 L323.87,363.22 L324.83,360.43 L325.80,357.48 L326.76,354.37 L327.73,351.11 L328.69,347.72 L329.65,344.19 L330.62,340.55 L331.58,336.81 L332.54,332.98 L333.51,329.09 L334.47,325.16 L335.43,321.20 L336.40,317.25 L337.36,313.34 L338.32,309.48 L339.29,305.71 L340.25,302.05 L341.21,298.54 L342.18,295.20 L343.14,292.06 L344.11,289.15 L345.07,286.49 L346.03,284.11 L347.00,282.02 L347.96,280.25 L348.92,278.81 L349.89,277.72 L350.85,276.99 L351.81,276.62 L352.78,276.62 L353.74,276.99 L354.70,277.72 L355.67,278.81 L356.63,280.25 L357.60,282.02 L358.56,284.11 L359.52,286.49 L360.49,289.15 L361.45,292.06 L362.41,295.20 L363.38,298.54 L364.34,302.05 L365.30,305.71 L366.27,309.48 L367.23,313.34 L368.19,317.25 L369.16,321.20 L370.12,325.16 L371.09,329.09 L372.05,332.98 L373.01,336.81 L373.98,340.55 L374.94,344.19 L375.90,347.72 L376.87,351.11 L377.83,354.37 L378.79,357.48 L379.76,360.43 L380.72,363.22 L381.69,365.85 L382.65,368.31 L383.61,370.61 L384.58,372.75 L385.54,374.73 L386.50,376.56 L387.47,378.23 L388.43,379.77 L389.39,381.16 L390.36,382.43 L391.32,383.58 L392.28,384.61 L393.25,385.54 L394.21,386.37 L395.17,387.11 L396.14,387.76 L397.10,388.34 L398.07,388.85 L399.03,389.30 L399.99,389.69 L400.96,390.03 L401.92,390.33 L402.88,390.58 L403.85,390.80 L404.81,390.99 L405.77,391.15 L406.74,391.29 L407.70,391.41 L408.66,391.51 L409.63,391.59 L410.59,391.66 L411.56,391.72 L412.52,391.77 L413.48,391.81 L414.45,391.85 L415.41,391.88 L416.37,391.90 L417.34,391.92 L418.30,391.94 L419.26,391.95 L420.23,391.96 L421.19,391.97 L422.15,391.97 L423.12,391.98 L424.08,391.98 L425.05,391.99 L426.01,391.99 L426.97,391.99 L427.94,391.99 L428.90,392.00" fill="none" stroke="#111" stroke-width="1.5"/>
<path d="M294.00,392.00 L294.96,392.00 L295.93,392.00 L296.89,392.00 L297.85,392.00 L298.82,392.00 L299.78,392.00 L300.75,391.99 L301.71,391.99 L302.67,391.99 L303.64,391.99 L304.60,391.98 L305.56,391.98 L306.53,391.97 L307.49,391.96 L308.45,391.95 L309.42,391.93 L310.38,391.91 L311.34,391.88 L312.31,391.85 L313.27,391.81 L314.24,391.77 L315.20,391.71 L316.16,391.63 L317.13,391.55 L318.09,391.44 L319.05,391.32 L320.02,391.17 L320.98,391.00 L321.94,390.80 L322.91,390.57 L323.87,390.30 L324.83,389.99 L325.80,389.64 L326.76,389.25 L327.73,388.81 L328.69,388.33 L329.65,387.79 L330.62,387.21 L331.58,386.57 L332.54,385.89 L333.51,385.16 L334.47,384.40 L335.43,383.59 L336.40,382.76 L337.36,381.90 L338.32,381.03 L339.29,380.15 L340.25,379.28 L341.21,378.42 L342.18,377.59 L343.14,376.80 L344.11,376.07 L345.07,375.39 L346.03,374.79 L347.00,374.28 L347.96,373.85 L348.92,373.53 L349.89,373.31 L350.85,373.20 L351.81,373.20 L352.78,373.31 L353.74,373.53 L354.70,373.85 L355.67,374.28 L356.63,374.79 L357.60,375.39 L358.56,376.07 L359.52,376.80 L360.49,377.59 L361.45,378.42 L362.41,379.28 L363.38,380.15 L364.34,381.03 L365.30,381.90 L366.27,382.76 L367.23,383.59 L368.19,384.40 L369.16,385.16 L370.12,385.89 L371.09,386.57 L372.05,387.21 L373.01,387.79 L373.98,388.33 L374.94,388.81 L375.90,389.25 L376.87,389.64 L377.83,389.99 L378.79,390.30 L379.76,390.57 L380.72,390.80 L381.69,391.00 L382.65,391.17 L383.61,391.32 L384.58,391.44 L385.54,391.55 L386.50,391.63 L387.47,391.71 L388.43,391.77 L389.39,391.81 L390.36,391.85 L391.32,391.88 L392.28,391.91 L393.25,391.93 L394.21,391.95 L395.17,391.96 L396.14,391.97 L397.10,391.98 L398.07,391.98 L399.03,391.99 L399.99,391.99 L400.96,391.99 L401.92,391.99 L402.88,392.00 L403.85,392.00 L404.81,392.00 L405.77,392.00 L406.74,392.00 L407.70,392.00 L408.66,392.00 L409.63,392.00 L410.59,392.00 L411.56,392.00 L412.52,392.00 L413.48,392.00 L414.45,392.00 L415.41,392.00 L416.37,392.00 L417.34,392.00 L418.30,392.00 L419.26,392.00 L420.23,392.00 L421.19,392.00 L422.15,392.00 L423.12,392.00 L424.08,392.00 L425.05,392.00 L426.01,392.00 L426.97,392.00 L427.94,392.00 L428.90,392.00" fill="none" stroke="#111" stroke-width="1.3"/>
<rect x="294.0" y="246.0" width="134.89999999999998" height="146.0" fill="none" stroke="#111" stroke-width="0.8"/>
<path d="M294.00,392v-2.2M294.00,246.0v2.2" stroke="#111" stroke-width="0.7"/>
<text x="295.20" y="399.10" font-size="5.94" text-anchor="middle">6</text>
<path d="M313.27,392v-2.2M313.27,246.0v2.2" stroke="#111" stroke-width="0.7"/>
<text x="314.47" y="399.10" font-size="5.94" text-anchor="middle">8</text>
<path d="M332.54,392v-2.2M332.54,246.0v2.2" stroke="#111" stroke-width="0.7"/>
<text x="333.74" y="399.10" font-size="5.94" text-anchor="middle">10</text>
<path d="M351.81,392v-2.2M351.81,246.0v2.2" stroke="#111" stroke-width="0.7"/>
<text x="353.01" y="399.10" font-size="5.94" text-anchor="middle">12</text>
<path d="M371.09,392v-2.2M371.09,246.0v2.2" stroke="#111" stroke-width="0.7"/>
<text x="372.29" y="399.10" font-size="5.94" text-anchor="middle">14</text>
<path d="M390.36,392v-2.2M390.36,246.0v2.2" stroke="#111" stroke-width="0.7"/>
<text x="391.56" y="399.10" font-size="5.94" text-anchor="middle">16</text>
<path d="M409.63,392v-2.2M409.63,246.0v2.2" stroke="#111" stroke-width="0.7"/>
<text x="410.83" y="399.10" font-size="5.94" text-anchor="middle">18</text>
<path d="M428.90,392v-2.2M428.90,246.0v2.2" stroke="#111" stroke-width="0.7"/>
<text x="430.10" y="399.10" font-size="5.94" text-anchor="middle">20</text>
<path d="M294.0,392.00h2.2M428.9,392.00h-2.2" stroke="#111" stroke-width="0.7"/>
<text x="291.40" y="392.90" font-size="5.94" text-anchor="end">0</text>
<path d="M294.0,375.78h2.2M428.9,375.78h-2.2" stroke="#111" stroke-width="0.7"/>
<text x="291.40" y="376.68" font-size="5.94" text-anchor="end">200</text>
<path d="M294.0,359.56h2.2M428.9,359.56h-2.2" stroke="#111" stroke-width="0.7"/>
<text x="291.40" y="360.46" font-size="5.94" text-anchor="end">400</text>
<path d="M294.0,343.33h2.2M428.9,343.33h-2.2" stroke="#111" stroke-width="0.7"/>
<text x="291.40" y="344.23" font-size="5.94" text-anchor="end">600</text>
<path d="M294.0,327.11h2.2M428.9,327.11h-2.2" stroke="#111" stroke-width="0.7"/>
<text x="291.40" y="328.01" font-size="5.94" text-anchor="end">800</text>
<path d="M294.0,310.89h2.2M428.9,310.89h-2.2" stroke="#111" stroke-width="0.7"/>
<text x="291.40" y="311.79" font-size="5.94" text-anchor="end">1000</text>
<path d="M294.0,294.67h2.2M428.9,294.67h-2.2" stroke="#111" stroke-width="0.7"/>
<text x="291.40" y="295.57" font-size="5.94" text-anchor="end">1200</text>
<path d="M294.0,278.44h2.2M428.9,278.44h-2.2" stroke="#111" stroke-width="0.7"/>
<text x="291.40" y="279.34" font-size="5.94" text-anchor="end">1400</text>
<path d="M294.0,262.22h2.2M428.9,262.22h-2.2" stroke="#111" stroke-width="0.7"/>
<text x="291.40" y="263.12" font-size="5.94" text-anchor="end">1600</text>
<path d="M294.0,246.00h2.2M428.9,246.00h-2.2" stroke="#111" stroke-width="0.7"/>
<text x="291.40" y="246.90" font-size="5.94" text-anchor="end">1800</text>
<text x="361.95" y="408.50" font-size="5.94" text-anchor="middle">Cluster velocity (km/s)</text>
<text transform="translate(271.90,319.00) rotate(-90)" font-size="5.88" text-anchor="middle">Number of Ejecta Clusters</text>
<text x="406.80" y="253.10" font-size="5.94" text-anchor="end">N=1</text>
<rect x="409.50" y="249.80" width="14.2" height="3" rx="0.45" fill="#fff" stroke="#111" stroke-width="0.7"/>
<text x="406.80" y="258.85" font-size="5.94" text-anchor="end">N=2</text>
<rect x="409.50" y="255.55" width="14.2" height="3" rx="0.45" fill="#aaa" stroke="#111" stroke-width="0.7"/>
<text x="406.80" y="264.60" font-size="5.94" text-anchor="end">N=2</text>
<path d="M409.50,262.80h14.2" stroke="#222" stroke-width="1.3"/>
<text x="406.80" y="270.35" font-size="5.94" text-anchor="end">N=1</text>
<path d="M409.50,268.55h14.2" stroke="#111" stroke-width="1.3"/>
</g>
<text class="t" x="97.1" y="23.3" font-size="12.6" text-anchor="middle" textLength="88.6" lengthAdjust="spacingAndGlyphs">Pure perfect Cu</text>
<text class="t" x="273.2" y="13.7" font-size="12.6" text-anchor="middle" textLength="133.4" lengthAdjust="spacingAndGlyphs">Cu-He Bubbles (r=1nm)</text>
<text class="t" x="272.7" y="30.7" font-size="12.6" text-anchor="middle" textLength="93.4" lengthAdjust="spacingAndGlyphs">~12.5k appm He</text>
<text class="t" x="438.3" y="13.7" font-size="12.6" text-anchor="middle" textLength="133.2" lengthAdjust="spacingAndGlyphs">Cu-He Bubbles (r=3nm)</text>
<text class="t" x="438.0" y="30.7" font-size="12.6" text-anchor="middle" textLength="93.2" lengthAdjust="spacingAndGlyphs">~12.5k appm He</text>
<text class="t" x="188.7" y="217.9" font-size="12.6" text-anchor="middle" textLength="133.2" lengthAdjust="spacingAndGlyphs">Cu-He Bubbles (r=1nm)</text>
<text class="t" x="188.7" y="234.6" font-size="12.6" text-anchor="middle" textLength="82.6" lengthAdjust="spacingAndGlyphs">~25k appm He</text>
<text class="t" x="357.5" y="217.9" font-size="12.6" text-anchor="middle" textLength="133.6" lengthAdjust="spacingAndGlyphs">Cu-He Bubbles (r=3nm)</text>
<text class="t" x="357.5" y="234.6" font-size="12.6" text-anchor="middle" textLength="83.0" lengthAdjust="spacingAndGlyphs">~25k appm He</text>
<text class="p" x="0.6" y="50.1" font-size="14.8" textLength="12.4" lengthAdjust="spacingAndGlyphs">a)</text>
<text class="p" x="175.2" y="50.1" font-size="14.8" textLength="12.4" lengthAdjust="spacingAndGlyphs">b)</text>
<text class="p" x="346.6" y="50.6" font-size="14.8" textLength="10.6" lengthAdjust="spacingAndGlyphs">c)</text>
<text class="p" x="91.6" y="251.6" font-size="14.8" textLength="12.8" lengthAdjust="spacingAndGlyphs">d)</text>
<text class="p" x="260.3" y="252.6" font-size="14.8" textLength="12.3" lengthAdjust="spacingAndGlyphs">e)</text>
</g></svg></body></html>
